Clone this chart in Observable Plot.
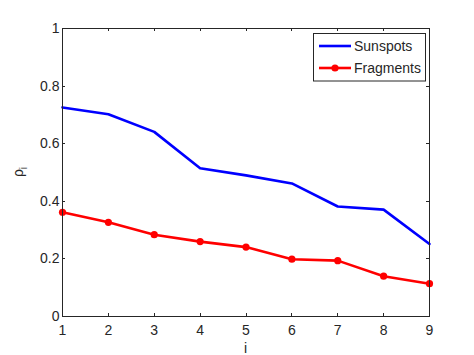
<!DOCTYPE html>
<html>
<head>
<meta charset="utf-8">
<script src="https://cdn.jsdelivr.net/npm/d3@7"></script>
<script src="https://cdn.jsdelivr.net/npm/@observablehq/plot@0.6"></script>
<style>
  html, body { margin: 0; padding: 0; background: #fff; }
</style>
</head>
<body>
<div id="chart"></div>
<script>
const idx = [1, 2, 3, 4, 5, 6, 7, 8, 9];
const sunspots = [0.726, 0.702, 0.641, 0.515, 0.490, 0.462, 0.382, 0.371, 0.252];
const fragments = [0.362, 0.327, 0.284, 0.260, 0.241, 0.199, 0.194, 0.140, 0.114];
const xTicks = [1, 2, 3, 4, 5, 6, 7, 8, 9];
const yTicks = [0, 0.2, 0.4, 0.6, 0.8, 1];
const yTickLabels = ["0", "0.2", "0.4", "0.6", "0.8", "1"];
const seriesNames = ["Sunspots", "Fragments"];
const seriesColors = ["#0000ff", "#ff0000"];
const xLabel = "i";

const sData = idx.map((i, k) => ({i, v: sunspots[k]}));
const fData = idx.map((i, k) => ({i, v: fragments[k]}));
const txt = "#262626";
const font = "'Liberation Sans', Arial, sans-serif";

const chart = Plot.plot({
  width: 474,
  height: 355,
  marginLeft: 62,
  marginRight: 45,
  marginTop: 28,
  marginBottom: 39,
  x: {domain: [1, 9]},
  y: {domain: [0, 1]},
  style: {fontFamily: font, fontSize: "14px", color: txt, background: "#fff"},
  marks: [
    Plot.line(sData, {x: "i", y: "v", stroke: seriesColors[0], strokeWidth: 2.6}),
    Plot.line(fData, {x: "i", y: "v", stroke: seriesColors[1], strokeWidth: 2.6}),
    Plot.dot(fData, {x: "i", y: "v", fill: seriesColors[1], r: 3.6}),
    Plot.frame({stroke: txt, strokeWidth: 1}),
    Plot.axisX(xTicks, {anchor: "bottom", tickSize: 0, tickPadding: 9, label: null, fill: txt}),
    Plot.axisY(yTicks, {anchor: "left", tickSize: 0, tickPadding: 3, tickFormat: (d, k) => yTickLabels[k], label: null, fill: txt})
  ]
});

const svg = d3.select(chart);
const sx = chart.scale("x"), sy = chart.scale("y");
const [x0, x1] = sx.range, [y0, y1] = sy.range; // y0 bottom, y1 top
const tickLen = 3;
const tg = svg.append("g").attr("stroke", txt).attr("stroke-width", 1);
xTicks.forEach(t => {
  const x = Math.round(sx.apply(t)) + 0.5;
  tg.append("line").attr("x1", x).attr("x2", x).attr("y1", y0).attr("y2", y0 - tickLen);
  tg.append("line").attr("x1", x).attr("x2", x).attr("y1", y1).attr("y2", y1 + tickLen);
});
yTicks.forEach(t => {
  const y = Math.round(sy.apply(t)) + 0.5;
  tg.append("line").attr("x1", x0).attr("x2", x0 + tickLen).attr("y1", y).attr("y2", y);
  tg.append("line").attr("x1", x1).attr("x2", x1 - tickLen).attr("y1", y).attr("y2", y);
});

// x-axis label
svg.append("text")
  .attr("x", (x0 + x1) / 2).attr("y", 353)
  .attr("text-anchor", "middle").attr("fill", txt)
  .style("font-family", font).style("font-size", "14px")
  .text(xLabel);

// y-axis label rho_i
const yl = svg.append("text")
  .attr("transform", "translate(23,172) rotate(-90)")
  .attr("text-anchor", "middle")
  .attr("fill", txt)
  .style("font-family", font)
  .style("font-size", "14px");
yl.append("tspan").text("ρ");
yl.append("tspan").attr("dy", 4).style("font-size", "10px").text("i");

// legend
const lg = svg.append("g").style("font-family", font).style("font-size", "14px");
lg.append("rect").attr("x", 313.5).attr("y", 33.5).attr("width", 112).attr("height", 47.5)
  .attr("fill", "#fff").attr("stroke", txt).attr("stroke-width", 1);
seriesNames.forEach((name, k) => {
  const y = 46 + k * 22;
  lg.append("line").attr("x1", 319).attr("x2", 351).attr("y1", y).attr("y2", y)
    .attr("stroke", seriesColors[k]).attr("stroke-width", 2.6);
  if (k === 1) lg.append("circle").attr("cx", 335).attr("cy", y).attr("r", 3.6).attr("fill", seriesColors[k]);
  lg.append("text").attr("x", 354).attr("y", y).attr("dy", "0.35em")
    .attr("text-anchor", "start").attr("fill", txt).text(name);
});

document.getElementById("chart").appendChild(chart);
</script>
</body>
</html>
